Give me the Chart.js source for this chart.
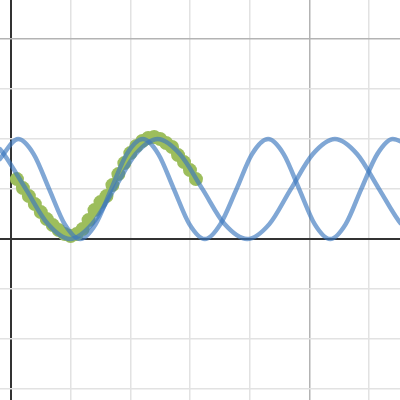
<!DOCTYPE html>
<html>
<head>
<meta charset="utf-8">
<script src="https://cdn.jsdelivr.net/npm/chart.js@4"></script>
<style>
  html, body { margin: 0; padding: 0; background: #fff; }
  #wrap { width: 400px; height: 400px; position: relative; }
</style>
</head>
<body>
<div id="wrap"><canvas id="graph"></canvas></div>
<script>
// Fast wave
const fastX = [-0.2, 0.12, 0.38, 0.64, 0.90, 1.16, 1.42, 1.68, 1.94, 2.21, 2.47, 2.73, 2.99, 3.25, 3.51, 3.78, 4.04, 4.31, 4.57, 4.83, 5.09, 5.35, 5.61, 5.87, 6.14, 6.40, 6.6];
const fastY = [0.79, 1.0, 0.85, 0.5, 0.15, 0.0, 0.15, 0.5, 0.85, 1.0, 0.85, 0.5, 0.15, 0.0, 0.15, 0.5, 0.85, 1.0, 0.85, 0.5, 0.15, 0.0, 0.15, 0.5, 0.85, 1.0, 0.96];

// Slow wave (the fitted curve)
const slowX = [-0.2, -0.12, 0.25, 0.62, 0.99, 1.36, 1.73, 2.09, 2.46, 2.83, 3.21, 3.58, 3.96, 4.33, 4.69, 5.06, 5.43, 5.80, 6.17, 6.54, 6.6];
const slowY = [0.91, 0.85, 0.5, 0.15, 0.0, 0.15, 0.5, 0.85, 1.0, 0.85, 0.5, 0.15, 0.0, 0.15, 0.5, 0.85, 1.0, 0.85, 0.5, 0.15, 0.12];

// Green sample points
const dotX = [0.1, 0.2, 0.3, 0.4, 0.5, 0.6, 0.7, 0.8, 0.9, 1.0, 1.1, 1.2, 1.3, 1.4, 1.5, 1.6, 1.7, 1.8, 1.9, 2.0, 2.1, 2.2, 2.3, 2.4, 2.5, 2.6, 2.7, 2.8, 2.9, 3.0, 3.1];
const dotY = [0.60, 0.51, 0.43, 0.35, 0.27, 0.20, 0.14, 0.09, 0.05, 0.03, 0.05, 0.10, 0.19, 0.29, 0.37, 0.43, 0.54, 0.65, 0.76, 0.86, 0.93, 0.98, 1.01, 1.02, 1.00, 0.96, 0.92, 0.84, 0.77, 0.69, 0.60];

// Visible window and grid
const xRange = [-0.184, 6.52];
const yRange = [-1.608, 2.39];
const xStep = 1, xMajor = 5;
const yStep = 0.5, yMajor = 2;

const blue = 'rgba(60,120,190,0.65)';
const green = 'rgb(157,190,92)';

function toPoints(xs, ys) {
  return xs.map((x, i) => ({ x: x, y: ys[i] }));
}

// colour each grid line: axis dark, major mid grey, minor light
function gridColor(major) {
  return ctx => {
    const v = ctx.tick ? ctx.tick.value : null;
    if (v === null) return 'rgba(0,0,0,0)';
    if (Math.abs(v) < 1e-9) return '#333';
    if (Math.abs(v % major) < 1e-9) return '#b3b3b3';
    return '#e2e2e2';
  };
}
function gridWidth(ctx) {
  const v = ctx.tick ? ctx.tick.value : 1;
  return Math.abs(v) < 1e-9 ? 2 : 1.5;
}

function lineSet(data) {
  return {
    data: data,
    showLine: true,
    borderColor: blue,
    borderWidth: 4.5,
    pointRadius: 0,
    cubicInterpolationMode: 'monotone',
    fill: false
  };
}

new Chart(document.getElementById('graph'), {
  type: 'scatter',
  data: {
    datasets: [
      lineSet(toPoints(fastX, fastY)),
      lineSet(toPoints(slowX, slowY)),
      {
        data: toPoints(dotX, dotY),
        showLine: false,
        pointRadius: 7,
        pointBorderWidth: 0,
        pointBackgroundColor: green,
        pointBorderColor: green
      }
    ]
  },
  options: {
    responsive: true,
    maintainAspectRatio: false,
    animation: false,
    events: [],
    layout: { padding: 0, autoPadding: false },
    plugins: { legend: { display: false }, tooltip: { enabled: false } },
    scales: {
      x: {
        type: 'linear',
        min: xRange[0], max: xRange[1],
        border: { display: false },
        ticks: { display: false, stepSize: xStep, includeBounds: false },
        grid: { drawTicks: false, color: gridColor(xMajor), lineWidth: gridWidth }
      },
      y: {
        type: 'linear',
        min: yRange[0], max: yRange[1],
        border: { display: false },
        ticks: { display: false, stepSize: yStep, includeBounds: false },
        grid: { drawTicks: false, color: gridColor(yMajor), lineWidth: gridWidth }
      }
    }
  }
});
</script>
</body>
</html>
